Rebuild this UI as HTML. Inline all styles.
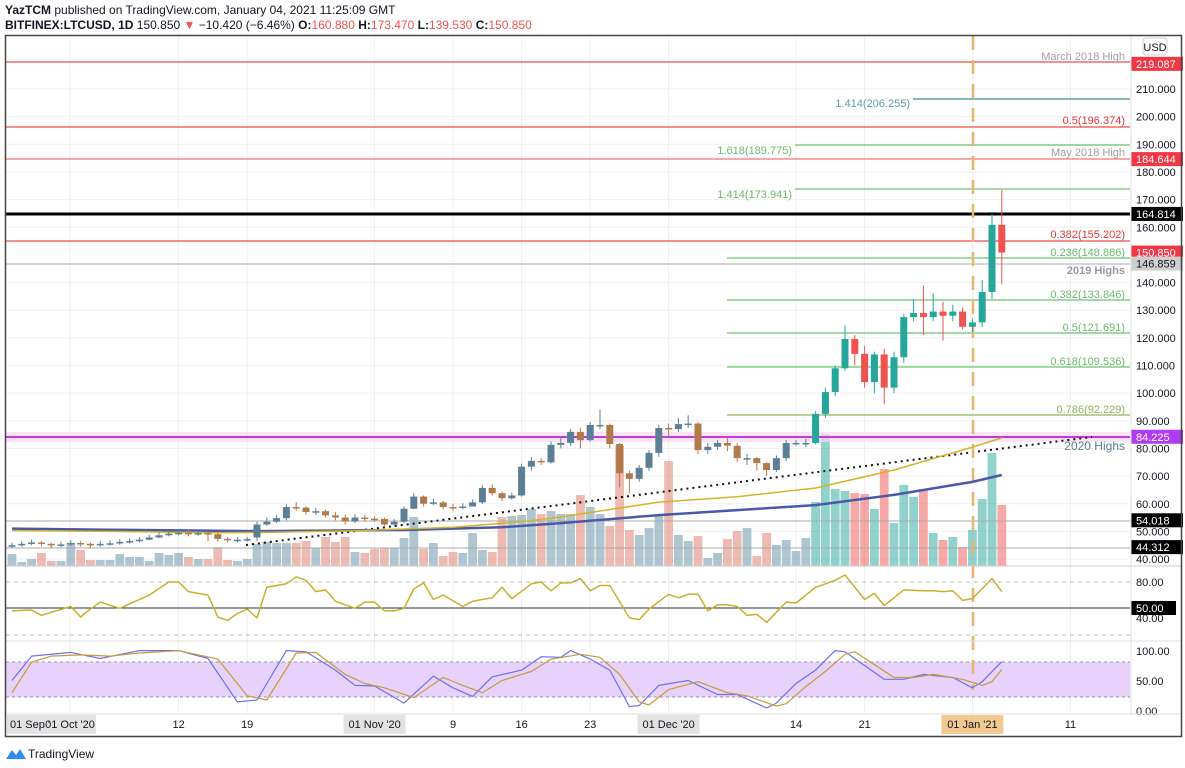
<!DOCTYPE html>
<html><head><meta charset="utf-8"><title>LTCUSD chart</title>
<style>
html,body{margin:0;padding:0;background:#fff;}
svg{display:block;font-family:"Liberation Sans",sans-serif;}
</style></head>
<body>
<svg id="chart" width="1185" height="768" viewBox="0 0 1185 768">
<text x="5" y="14" font-size="12" fill="#131722"><tspan font-weight="bold">YazTCM</tspan> published on TradingView.com, January 04, 2021 11:25:09 GMT</text>
<text x="5" y="29" font-size="12" fill="#131722"><tspan font-weight="bold">BITFINEX:LTCUSD, 1D</tspan> 150.850 <tspan fill="#ef5350">▼</tspan> −10.420 (−6.46%) <tspan font-weight="bold">O:</tspan><tspan fill="#ef5350">160.880</tspan> <tspan font-weight="bold">H:</tspan><tspan fill="#ef5350">173.470</tspan> <tspan font-weight="bold">L:</tspan><tspan fill="#ef5350">139.530</tspan> <tspan font-weight="bold">C:</tspan><tspan fill="#ef5350">150.850</tspan></text>
<g id="grid"></g>
<g id="bands">
  <rect x="6" y="662" width="1124" height="35" fill="#e6d2fb"/>
  <line x1="6" x2="1130" y1="662" y2="662" stroke="#9a8fb0" stroke-dasharray="3,3"/>
  <line x1="6" x2="1130" y1="697" y2="697" stroke="#9a8fb0" stroke-dasharray="3,3"/>
  <line x1="6" x2="1130" y1="582" y2="582" stroke="#bbb" stroke-dasharray="4,4"/>
  <line x1="6" x2="1130" y1="635" y2="635" stroke="#bbb" stroke-dasharray="4,4"/>
  <line x1="6" x2="1130" y1="608" y2="608" stroke="#333" stroke-width="1"/>
</g>
<g id="vol"></g>
<g id="levels">
  <line x1="6" x2="1130" y1="62" y2="62" stroke="#f06a6a" stroke-width="1.5"/>
  <line x1="913" x2="1130" y1="99" y2="99" stroke="#5e9ea0" stroke-width="1.5"/>
  <line x1="6" x2="1130" y1="127" y2="127" stroke="#f06a6a" stroke-width="1.5"/>
  <line x1="795" x2="1130" y1="145" y2="145" stroke="#6cc36c" stroke-width="1.2"/>
  <line x1="6" x2="1130" y1="159" y2="159" stroke="#f48a8a" stroke-width="1.5"/>
  <line x1="795" x2="1130" y1="189" y2="189" stroke="#6cc36c" stroke-width="1.2"/>
  <line x1="6" x2="1130" y1="214" y2="214" stroke="#000" stroke-width="3"/>
  <line x1="6" x2="1130" y1="241" y2="241" stroke="#f06a6a" stroke-width="1.5"/>
  <line x1="727" x2="1130" y1="258" y2="258" stroke="#6cc36c" stroke-width="1.2"/>
  <line x1="6" x2="1130" y1="264" y2="264" stroke="#c8c8c8" stroke-width="1.5"/>
  <line x1="727" x2="1130" y1="300" y2="300" stroke="#6cc36c" stroke-width="1.2"/>
  <line x1="727" x2="1130" y1="333" y2="333" stroke="#6cc36c" stroke-width="1.2"/>
  <line x1="727" x2="1130" y1="367" y2="367" stroke="#6cc36c" stroke-width="1.2"/>
  <line x1="727" x2="1130" y1="415" y2="415" stroke="#8fb35a" stroke-width="1.2"/>
  <rect x="6" y="432" width="1124" height="10" fill="#fbd9f5" opacity="0.7"/>
  <line x1="6" x2="1130" y1="437" y2="437" stroke="#c23bdb" stroke-width="2"/>
  <line x1="6" x2="1130" y1="521" y2="521" stroke="#aaa" stroke-width="1"/>
  <line x1="6" x2="1130" y1="548" y2="548" stroke="#aaa" stroke-width="1"/>
  <line x1="246" x2="1092" y1="545" y2="437" stroke="#111" stroke-width="2" stroke-dasharray="2,4"/>
  <line x1="973" x2="973" y1="36" y2="690" stroke="#eab46a" stroke-width="2.5" stroke-dasharray="14,10"/>
</g>
<g id="ma"></g>
<g id="candles"></g>
<g id="ind"></g>
<g font-size="11" font-weight="500">
  <text x="1125" y="60" text-anchor="end" fill="#a0a0a0">March 2018 High</text>
  <text x="910" y="107" text-anchor="end" fill="#5e9ea0">1.414(206.255)</text>
  <text x="1125" y="124" text-anchor="end" fill="#e03a3a">0.5(196.374)</text>
  <text x="792" y="154" text-anchor="end" fill="#6cb96c">1.618(189.775)</text>
  <text x="1125" y="156" text-anchor="end" fill="#a0a0a0">May 2018 High</text>
  <text x="792" y="198" text-anchor="end" fill="#6cb96c">1.414(173.941)</text>
  <text x="1125" y="238" text-anchor="end" fill="#e03a3a">0.382(155.202)</text>
  <text x="1125" y="256" text-anchor="end" fill="#6cb96c">0.236(148.886)</text>
  <text x="1125" y="274" text-anchor="end" fill="#999" font-weight="bold">2019 Highs</text>
  <text x="1125" y="298" text-anchor="end" fill="#6cb96c">0.382(133.846)</text>
  <text x="1125" y="331" text-anchor="end" fill="#6cb96c">0.5(121.691)</text>
  <text x="1125" y="365" text-anchor="end" fill="#6cb96c">0.618(109.536)</text>
  <text x="1125" y="413" text-anchor="end" fill="#8fb35a">0.786(92.229)</text>
  <text x="1125" y="450" text-anchor="end" fill="#5b7f8a" font-size="12">2020 Highs</text>
</g>
<g id="axis">
  <rect x="1143" y="38" width="24" height="17" rx="3" fill="#fff" stroke="#ccc"/>
  <text x="1155" y="51" text-anchor="middle" font-size="11" fill="#131722">USD</text>
</g>
<g id="frame">
  <line x1="6" x2="1182" y1="566" y2="566" stroke="#ccc"/>
  <line x1="6" x2="1182" y1="641" y2="641" stroke="#ddd"/>
  <line x1="6" x2="1182" y1="714" y2="714" stroke="#ddd"/>
  <line x1="1131" x2="1131" y1="35" y2="714" stroke="#ddd"/>
  <rect x="5.5" y="35.5" width="1176" height="701" fill="none" stroke="#444" stroke-width="1.5"/>
</g>
<g id="time" font-size="11" fill="#131722"></g>
<g>
  <path d="M6 759 L12 750 L16 755 L20 749 L26 759 Z" fill="#2e8bf0"/>
  <text x="28" y="758" font-size="12" fill="#131722">TradingView</text>
</g>
</svg>
<script>
const opens=[45,45,45.5,46,45.5,45,45.3,45.8,45.5,45,45.5,45.7,46.2,46.5,47,47.8,48.6,49.2,49.5,49.2,49.4,49,47.3,46.8,47,47.8,52.5,53.5,54.8,58.8,58.6,57,57.3,55.8,55,53.6,55,54.6,54.5,52.5,53.5,58.2,62.6,60,60.5,58.8,58.5,59,60.5,65.7,63.8,62,63,73.4,75.5,75,81.3,82,86,83,88.5,88.5,81.6,71,69,73,78.4,87.4,87,88.8,89,79.4,80.6,82,81,76.5,76.5,74.7,72.2,76.5,82,82,82,92.5,100.4,109,119.6,114.2,104,114,102,113,127.5,129,127.5,129.5,128,129.5,124,125.6,136.6,160.88];
const closes=[45,45.5,46,45.5,45,45.3,45.8,45.5,45,45.5,45.7,46.2,46.5,47,47.8,48.6,49.2,49.5,49.2,49.4,49,47.3,46.8,47,47.2,52.5,53.5,54.8,58.8,58.6,57,57.3,55.8,55,53.6,55,54.6,54.5,52.5,53.5,58.2,62.6,60,60.5,58.8,58.5,59,60.5,65.7,63.8,62,63,73.4,75.5,75,81.3,82,86,83,88.5,88.5,81.6,71,69,73,78.4,87.4,87,88.8,89,79.4,80.6,82,81,76.5,76.5,74.7,72.2,76.5,82,82,82,92.5,100.4,109,119.6,114.2,104,114,102,113,127.5,129,127.5,129.5,128,129.5,124,125.6,136.6,160.88,150.85];
const highs=[46,46.5,47,46.5,46,46.3,46.8,46.5,46,46.5,46.7,47.2,47.5,48,48.8,49.6,50.5,51,50.5,50.4,50,49.5,48,48,48,53.5,55,56,59.8,60.5,59,58.5,58,57,56,56.2,56,55.5,55,54.5,59,63.8,63,61.8,61,60,60.2,61.5,66.8,67,64.5,64,74.5,77,76.5,82.5,84,87,87.5,89.5,94,89,82,72,74,79.5,88.5,89,91,92,89.5,82,83,84,82,78,77,75,77.5,83,83,83.5,93.5,102,110,124.5,121,117,115,116,115,128.5,134,139,136,133,132,131,127,141,164.8,173.47];
const lows=[44,44.5,45,44.5,44,44.3,44.8,44.5,44,44.5,44.8,45.2,45.6,46,46.8,47.6,48.2,48.5,48.2,48.4,46.5,46.3,46,46,46.3,46.5,52,53,54,57.5,56,56,55,54,52.5,53,53.5,53.5,52,52,53,58,59,59.5,58,57.5,58,59,60,63,61,61.5,62.5,72,74,74.5,80,81,80,82.5,87,80,66,64,68,72,77,84,86,87.5,78,78,79.5,79,75,74,72,70,71.5,75.5,81,80.5,81.5,91,99,108,110,102,100,96,100,111,126,121,126,119,126,123,122,124,134,139.53];
const volumes=[12,4,7,13,5,5,23,16,6,6,6,12,9,9,5,13,11,13,9,7,7,19,6,5,7,22,24,23,23,23,25,18,29,24,29,14,13,17,18,18,28,49,17,23,10,14,13,33,16,14,49,50,51,57,52,55,52,52,71,59,52,40,120,36,31,38,51,105,31,25,30,8,13,27,35,38,10,33,21,26,15,28,64,132,77,75,73,72,57,97,43,81,69,77,33,26,29,19,36,67,113,61];
const ma50Days=[0,10,20,25,35,45,52,56,66,74,82,90,98,101];
const ma50Values=[50.3,50,49.5,49.6,50.2,51.5,53.5,55.2,60.6,62.5,65.7,72.2,80.5,83.8];
const ma200Days=[0,10,25,40,50,56,66,82,90,98,101];
const ma200Values=[51,50.6,50.1,50.5,51.5,53,55.9,59.5,63.2,67.9,70.4];
const rsiDays=[0,2,3,6,7,8,9,11,14,16,17,18,20,21,22,23,24,25,26,28,29,30,31,32,33,35,36,37,38,39,40,41,42,43,44,46,47,49,50,51,53,54,55,56,57,58,59,60,61,63,64,65,67,68,69,70,71,72,73,74,75,76,77,79,80,82,84,85,87,88,89,91,93,94,95,96,97,98,100,101];
const rsiValues=[47,48,42,52,40,49,57,50,65,80,80,69,65,40,36,44,49,39,74,78,86,82,69,71,58,50,57,57,47,47,50,72,79,60,65,52,58,62,74,61,78,80,70,79,79,84,70,76,76,39,37,49,66,62,66,66,47,54,54,52,42,43,34,57,56,74,82,88,60,67,53,71,70,70,69,70,59,61,84,69];
const kDays=[0,2,6,9,13,17,20,23,25,28,30,33,35,37,40,43,45,47,49,52,54,56,57,59,61,63,64,66,69,72,74,77,78,80,82,84,85,89,91,93,96,98,99,101];
const kValues=[50,90,96,86,99,99,86,15,18,99,97,67,42,41,13,57,38,24,56,67,89,88,99,85,67,7,9,42,50,27,27,5,13,45,67,99,97,52,52,60,55,38,48,81];
const dDays=[0,2,4,7,10,13,17,21,24,26,29,31,34,36,38,41,44,46,48,50,53,55,58,60,62,64,65,67,70,73,75,78,79,81,83,85,86,90,92,94,97,99,100,101];
const dValues=[30,80,90,92,90,95,99,85,25,18,95,96,60,45,38,22,55,42,30,50,65,85,93,88,60,15,10,35,48,30,25,8,12,40,65,93,97,55,55,60,52,42,48,68];
const priceTicks=[210,200,190,180,170,160,140,130,120,110,100,90,80,70,60,50,40];
const priceTickLabels=["210.000","200.000","190.000","180.000","170.000","160.000","140.000","130.000","120.000","110.000","100.000","90.000","80.000","70.000","60.000","50.000","40.000"];
const tagValues=[219.087,184.644,164.814,150.85,146.859,84.225,54.018,44.312];
const tagLabels=["219.087","184.644","164.814","150.850","146.859","84.225","54.018","44.312"];
const tagColors=["#f23645","#f23645","#000","#f23645","#cfcfcf","#b03cf0","#000","#000"];
const timeDays=[6,17,24,37,45,52,59,67,80,87,98,108];
const timeLabels=["01 Oct '20","12","19","01 Nov '20","9","16","23","01 Dec '20","14","21","01 Jan '21","11"];

const NS="http://www.w3.org/2000/svg";
const X0=12, STEP=9.8;
function xOf(i){return X0+i*STEP;}
function yP(p){return 89+(210-p)*2.765;}
function yR(r){return 582+(80-r)*0.875;}
function yS(s){return 711-s*0.61;}
function yV(v){return 566-v;}
function mk(tag,attrs,parent){const e=document.createElementNS(NS,tag);for(const k in attrs)e.setAttribute(k,attrs[k]);parent.appendChild(e);return e;}

const grid=document.getElementById('grid');
priceTicks.forEach(function(p){
  const l=mk('line',{x1:6,x2:1130,y1:yP(p),y2:yP(p),stroke:'#f0f0f0'},grid);
  
  
});
const gx=[70].concat(timeDays.slice(1).map(xOf));
gx.forEach(function(x){
  const l=mk('line',{x1:x,x2:x,y1:36,y2:714,stroke:'#efefef'},grid);
  
  
});

const vol=document.getElementById('vol');
volumes.forEach(function(v,i){
  const up=closes[i]>=opens[i];
  let c;
  if(i<82){c=up?'rgba(95,140,160,0.5)':'rgba(220,120,100,0.5)';}
  else{c=up?'rgba(38,166,154,0.5)':'rgba(239,83,80,0.5)';}
  const r=mk('rect',{x:xOf(i)-4.4,y:yV(v),width:8.8,height:v,fill:c},vol);
  
  
});

const ma=document.getElementById('ma');
function poly(days,vals,yf,color,w,parent,name){
  const pts=days.map(function(d,k){return xOf(d).toFixed(1)+','+yf(vals[k]).toFixed(1);}).join(' ');
  const p=mk('polyline',{points:pts,fill:'none',stroke:color,'stroke-width':w,'stroke-linejoin':'round'},parent);
  
  
}
poly(ma200Days,ma200Values,yP,'#4a5aa8',2.5,ma,'ma-200-line');
poly(ma50Days,ma50Values,yP,'#d4b32a',1.5,ma,'ma-50-line');

const cg=document.getElementById('candles');
closes.forEach(function(c,i){
  const o=opens[i],up=c>=o;
  let col;
  if(i<82){col=up?'#5b7f96':'#b07a4a';}else{col=up?'#26a69a':'#ef5350';}
  const x=xOf(i);
  const w=mk('line',{x1:x,x2:x,y1:yP(highs[i]),y2:yP(lows[i]),stroke:col,'stroke-width':1},cg);
  
  
  const top=yP(Math.max(o,c)),bot=yP(Math.min(o,c));
  const b=mk('rect',{x:x-3.5,y:top,width:7,height:Math.max(1.5,bot-top),fill:col},cg);
  
  
});

const ind=document.getElementById('ind');
poly(rsiDays,rsiValues,yR,'#c9b02c',1.5,ind,'rsi-line');
poly(kDays,kValues,yS,'#6f6ff0',1.2,ind,'stoch-k-line');
poly(dDays,dValues,yS,'#c89a3a',1.2,ind,'stoch-d-line');

const ax=document.getElementById('axis');
priceTicks.forEach(function(p,k){
  const t=mk('text',{x:1136,y:yP(p)+4,'font-size':11,fill:'#131722'},ax);
  t.textContent=priceTickLabels[k];
  
  
});
[['80.00',582],['40.00',618],['100.00',651],['50.00',681],['0.00',711]].forEach(function(a){
  const t=mk('text',{x:1136,y:a[1]+4,'font-size':11,fill:'#131722'},ax);
  t.textContent=a[0];
  
  
});
tagValues.forEach(function(v,k){
  const y=yP(v);
  const r=mk('rect',{x:1131,y:y-7,width:52,height:14,fill:tagColors[k]},ax);
  
  
  const t=mk('text',{x:1136,y:y+4,'font-size':11,fill:tagColors[k]==='#cfcfcf'?'#131722':'#fff'},ax);
  t.textContent=tagLabels[k];
  
  
});
(function(){
  const r=mk('rect',{x:1131,y:601,width:45,height:14,fill:'#000'},ax);
  
  
  const t=mk('text',{x:1136,y:612,'font-size':11,fill:'#fff'},ax);
  t.textContent='50.00';
  
  
})();

const tg=document.getElementById('time');
(function(){
  const r=mk('rect',{x:7,y:715,width:89,height:19,fill:'#e2e2e2'},tg);
  
  
  const t=mk('text',{x:10,y:728},tg);
  t.textContent="01 Sep '";
  
  
})();
timeDays.forEach(function(d,k){
  let x=xOf(d);
  if(k===0)x=70;
  const lab=timeLabels[k];
  if(lab.indexOf("'")>=0){
    const w=lab.length*5.6+6;
    if(k>0){
      const r=mk('rect',{x:x-w/2,y:715,width:w,height:19,fill:lab.indexOf('Jan')>=0?'#f2c98e':'#e2e2e2'},tg);
      
      
    }
  }
  const t=mk('text',{x:x,y:728,'text-anchor':'middle'},tg);
  t.textContent=lab;
  
  
});
</script>
</body></html>
